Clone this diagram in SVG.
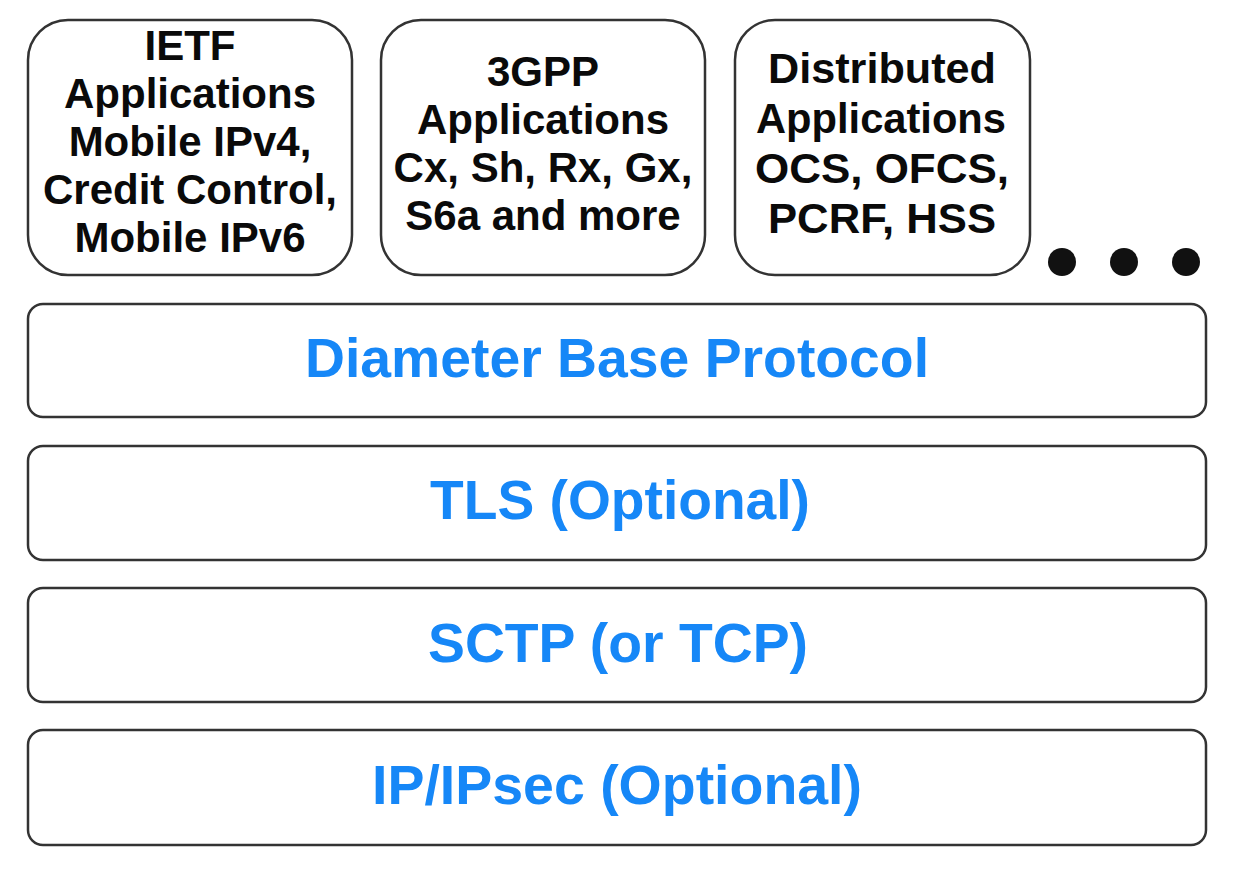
<svg xmlns="http://www.w3.org/2000/svg" width="1239" height="873" viewBox="0 0 1239 873">
<style>
.app{fill:#fff;stroke:#333;stroke-width:2.5}
.layer{fill:#fff;stroke:#333;stroke-width:2.5}
.at{font-family:"Liberation Sans",Arial,sans-serif;font-weight:bold;font-size:42px;fill:#0a0a0a;text-anchor:middle}
.lt{font-family:"Liberation Sans",Arial,sans-serif;font-weight:bold;font-size:55px;fill:#1687f7;text-anchor:middle}
.dot{fill:#111}
</style>
<rect width="1239" height="873" fill="#fff"/>
<g id="ietf">
<rect class="app" x="28" y="20" width="324" height="255" rx="40" ry="40"/>
<text class="at" x="190" y="60">IETF</text>
<text class="at" x="190" y="108">Applications</text>
<text class="at" x="190" y="156">Mobile IPv4,</text>
<text class="at" x="190" y="204">Credit Control,</text>
<text class="at" x="190" y="252">Mobile IPv6</text>
</g>
<g id="3gpp">
<rect class="app" x="381" y="20" width="324" height="255" rx="40" ry="40"/>
<text class="at" x="543" y="86">3GPP</text>
<text class="at" x="543" y="134">Applications</text>
<text class="at" x="543" y="182">Cx, Sh, Rx, Gx,</text>
<text class="at" x="543" y="230">S6a and more</text>
</g>
<g id="distributed">
<rect class="app" x="735" y="20" width="295" height="255" rx="40" ry="40"/>
<text class="at" x="882" y="83" textLength="228" lengthAdjust="spacingAndGlyphs">Distributed</text>
<text class="at" x="881" y="133" textLength="250" lengthAdjust="spacingAndGlyphs">Applications</text>
<text class="at" x="882" y="183" textLength="254" lengthAdjust="spacingAndGlyphs">OCS, OFCS,</text>
<text class="at" x="882" y="233" textLength="228" lengthAdjust="spacingAndGlyphs">PCRF, HSS</text>
</g>
<g id="ellipsis">
<circle class="dot" cx="1062" cy="262" r="14"/>
<circle class="dot" cx="1124" cy="262" r="14"/>
<circle class="dot" cx="1186" cy="262" r="14"/>
</g>
<g id="diameter">
<rect class="layer" x="28" y="304" width="1178" height="113" rx="15" ry="15"/>
<text class="lt" x="617" y="377" textLength="624" lengthAdjust="spacingAndGlyphs">Diameter Base Protocol</text>
</g>
<g id="tls">
<rect class="layer" x="28" y="446" width="1178" height="114" rx="15" ry="15"/>
<text class="lt" x="620" y="519" textLength="380" lengthAdjust="spacingAndGlyphs">TLS (Optional)</text>
</g>
<g id="sctp">
<rect class="layer" x="28" y="588" width="1178" height="114" rx="15" ry="15"/>
<text class="lt" x="618" y="662" textLength="380" lengthAdjust="spacingAndGlyphs">SCTP (or TCP)</text>
</g>
<g id="ip">
<rect class="layer" x="28" y="730" width="1178" height="115" rx="15" ry="15"/>
<text class="lt" x="617" y="804" textLength="490" lengthAdjust="spacingAndGlyphs">IP/IPsec (Optional)</text>
</g>
<g id="connectors"></g>
</svg>
